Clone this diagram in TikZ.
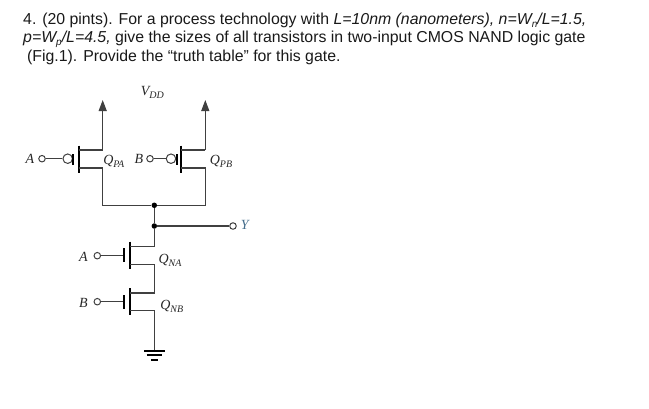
\documentclass[tikz,border=0pt]{standalone}
\usepackage{fontspec}
\setmainfont{Liberation Sans}
\newfontfamily\labelfont{Liberation Serif}
\usetikzlibrary{arrows.meta}
\definecolor{outcolor}{RGB}{70,110,140}
\newcommand{\lowtext}[1]{\raisebox{-0.22em}{\fontsize{10}{10}\selectfont #1}}
\tikzset{
	wire/.style={draw=black!75,line width=1.1pt},
	bar/.style={draw=black,line width=1.9pt},
	pin/.style={circle,draw=black!75,line width=1pt,fill=white,inner sep=0pt,minimum size=6.5pt},
	bubble/.style={pin,minimum size=9.5pt},
	junction/.style={circle,fill=black,inner sep=0pt,minimum size=5.5pt},
	para/.style={inner sep=0pt,anchor=base west,font=\fontsize{15.85}{18}\selectfont,text=black!90},
	sym/.style={inner sep=0pt,font=\labelfont\itshape\fontsize{14}{16}\selectfont,text=black!85},
	rail/.style={wire,-{Triangle[length=11pt,width=8pt]}}
}
\begin{document}
\begin{tikzpicture}[x=1pt,y=-1pt]
	\useasboundingbox (0,0) rectangle (649,408);
	% question text
	\node[para] (line1) at (23,24) {4. (20 pints). For a process technology with \textit{L=10nm (nanometers), n=W\lowtext{n}/L=1.5,}};
	\node[para] (line2) at (23,42) {\textit{p=W\lowtext{p}/L=4.5,} give the sizes of all transistors in two-input CMOS NAND logic gate};
	\node[para] (line3) at (27,61) {(Fig.1). Provide the “truth table” for this gate.};
	% junctions and output
	\node[junction] (top) at (154.3,205.3) {};
	\node[junction] (mid) at (154.3,226) {};
	\node[pin] (outY) at (233,226) {};
	\node[sym,text=outcolor] (labY) at (244.7,225) {Y};
	\draw[wire] (top) -- (mid);
	\draw[wire] (mid) -- (outY);
	% QPA
	\node[pin] (inPA) at (42,158.7) {};
	\node[bubble] (bubPA) at (67.7,158.7) {};
	\coordinate (upPA) at (102.7,150);
	\coordinate (dnPA) at (102.7,168);
	\coordinate (vddPA) at (102.7,100);
	\coordinate (busPA) at (102.7,205.3);
	\draw[wire] (inPA) -- (bubPA);
	\draw[bar] (73.3,154) -- (73.3,165);
	\draw[bar] (78.7,145.7) -- (78.7,172.7);
	\draw[wire] (78.7,150) -- (upPA);
	\draw[wire] (78.7,168) -- (dnPA) -- (busPA) -- (top);
	\draw[rail] (upPA) -- (vddPA);
	% QPB
	\node[pin] (inPB) at (150,158.7) {};
	\node[bubble] (bubPB) at (171,158.7) {};
	\coordinate (upPB) at (205.3,150);
	\coordinate (dnPB) at (205.3,168);
	\coordinate (vddPB) at (205.3,100);
	\coordinate (busPB) at (205.3,205.3);
	\draw[wire] (inPB) -- (bubPB);
	\draw[bar] (176.7,154) -- (176.7,165);
	\draw[bar] (181.3,145.7) -- (181.3,172.7);
	\draw[wire] (181.3,150) -- (upPB);
	\draw[wire] (181.3,168) -- (dnPB) -- (busPB) -- (top);
	\draw[rail] (upPB) -- (vddPB);
	% QNA
	\node[pin] (inNA) at (97.3,255.7) {};
	\coordinate (upNA) at (154.3,246.7);
	\coordinate (dnNA) at (154.3,264.3);
	\draw[wire] (inNA) -- (124,255.7);
	\draw[bar] (124,248.3) -- (124,262.3);
	\draw[bar] (130,241.7) -- (130,269);
	\draw[wire] (mid) -- (upNA) -- (130,246.7);
	\draw[wire] (130,264.3) -- (dnNA);
	% QNB
	\node[pin] (inNB) at (97.3,301.7) {};
	\coordinate (upNB) at (154.3,293);
	\coordinate (dnNB) at (154.3,310.7);
	\coordinate (gnd) at (154.3,350.7);
	\draw[wire] (inNB) -- (124,301.7);
	\draw[bar] (124,295) -- (124,309);
	\draw[bar] (130,288) -- (130,315.3);
	\draw[wire] (dnNA) -- (upNB) -- (130,293);
	\draw[wire] (130,310.7) -- (dnNB) -- (gnd);
	% ground
	\draw[bar] (144,350.7) -- (165,350.7);
	\draw[bar] (146.7,355.3) -- (162.3,355.3);
	\draw[bar] (151,360) -- (158.3,360);
	% labels
	\node[sym] (labVDD) at (152.3,92.3) {V\lowtext{DD}};
	\node[sym] (labA1) at (30,158.7) {A};
	\node[sym] (labB1) at (139,158.7) {B};
	\node[sym] (labA2) at (83.3,256.7) {A};
	\node[sym] (labB2) at (83.3,302.5) {B};
	\node[sym] (labPA) at (113.8,161.7) {Q\lowtext{PA}};
	\node[sym] (labPB) at (221,161.7) {Q\lowtext{PB}};
	\node[sym] (labNA) at (170,260) {Q\lowtext{NA}};
	\node[sym] (labNB) at (171.7,306) {Q\lowtext{NB}};
\end{tikzpicture}
\end{document}
